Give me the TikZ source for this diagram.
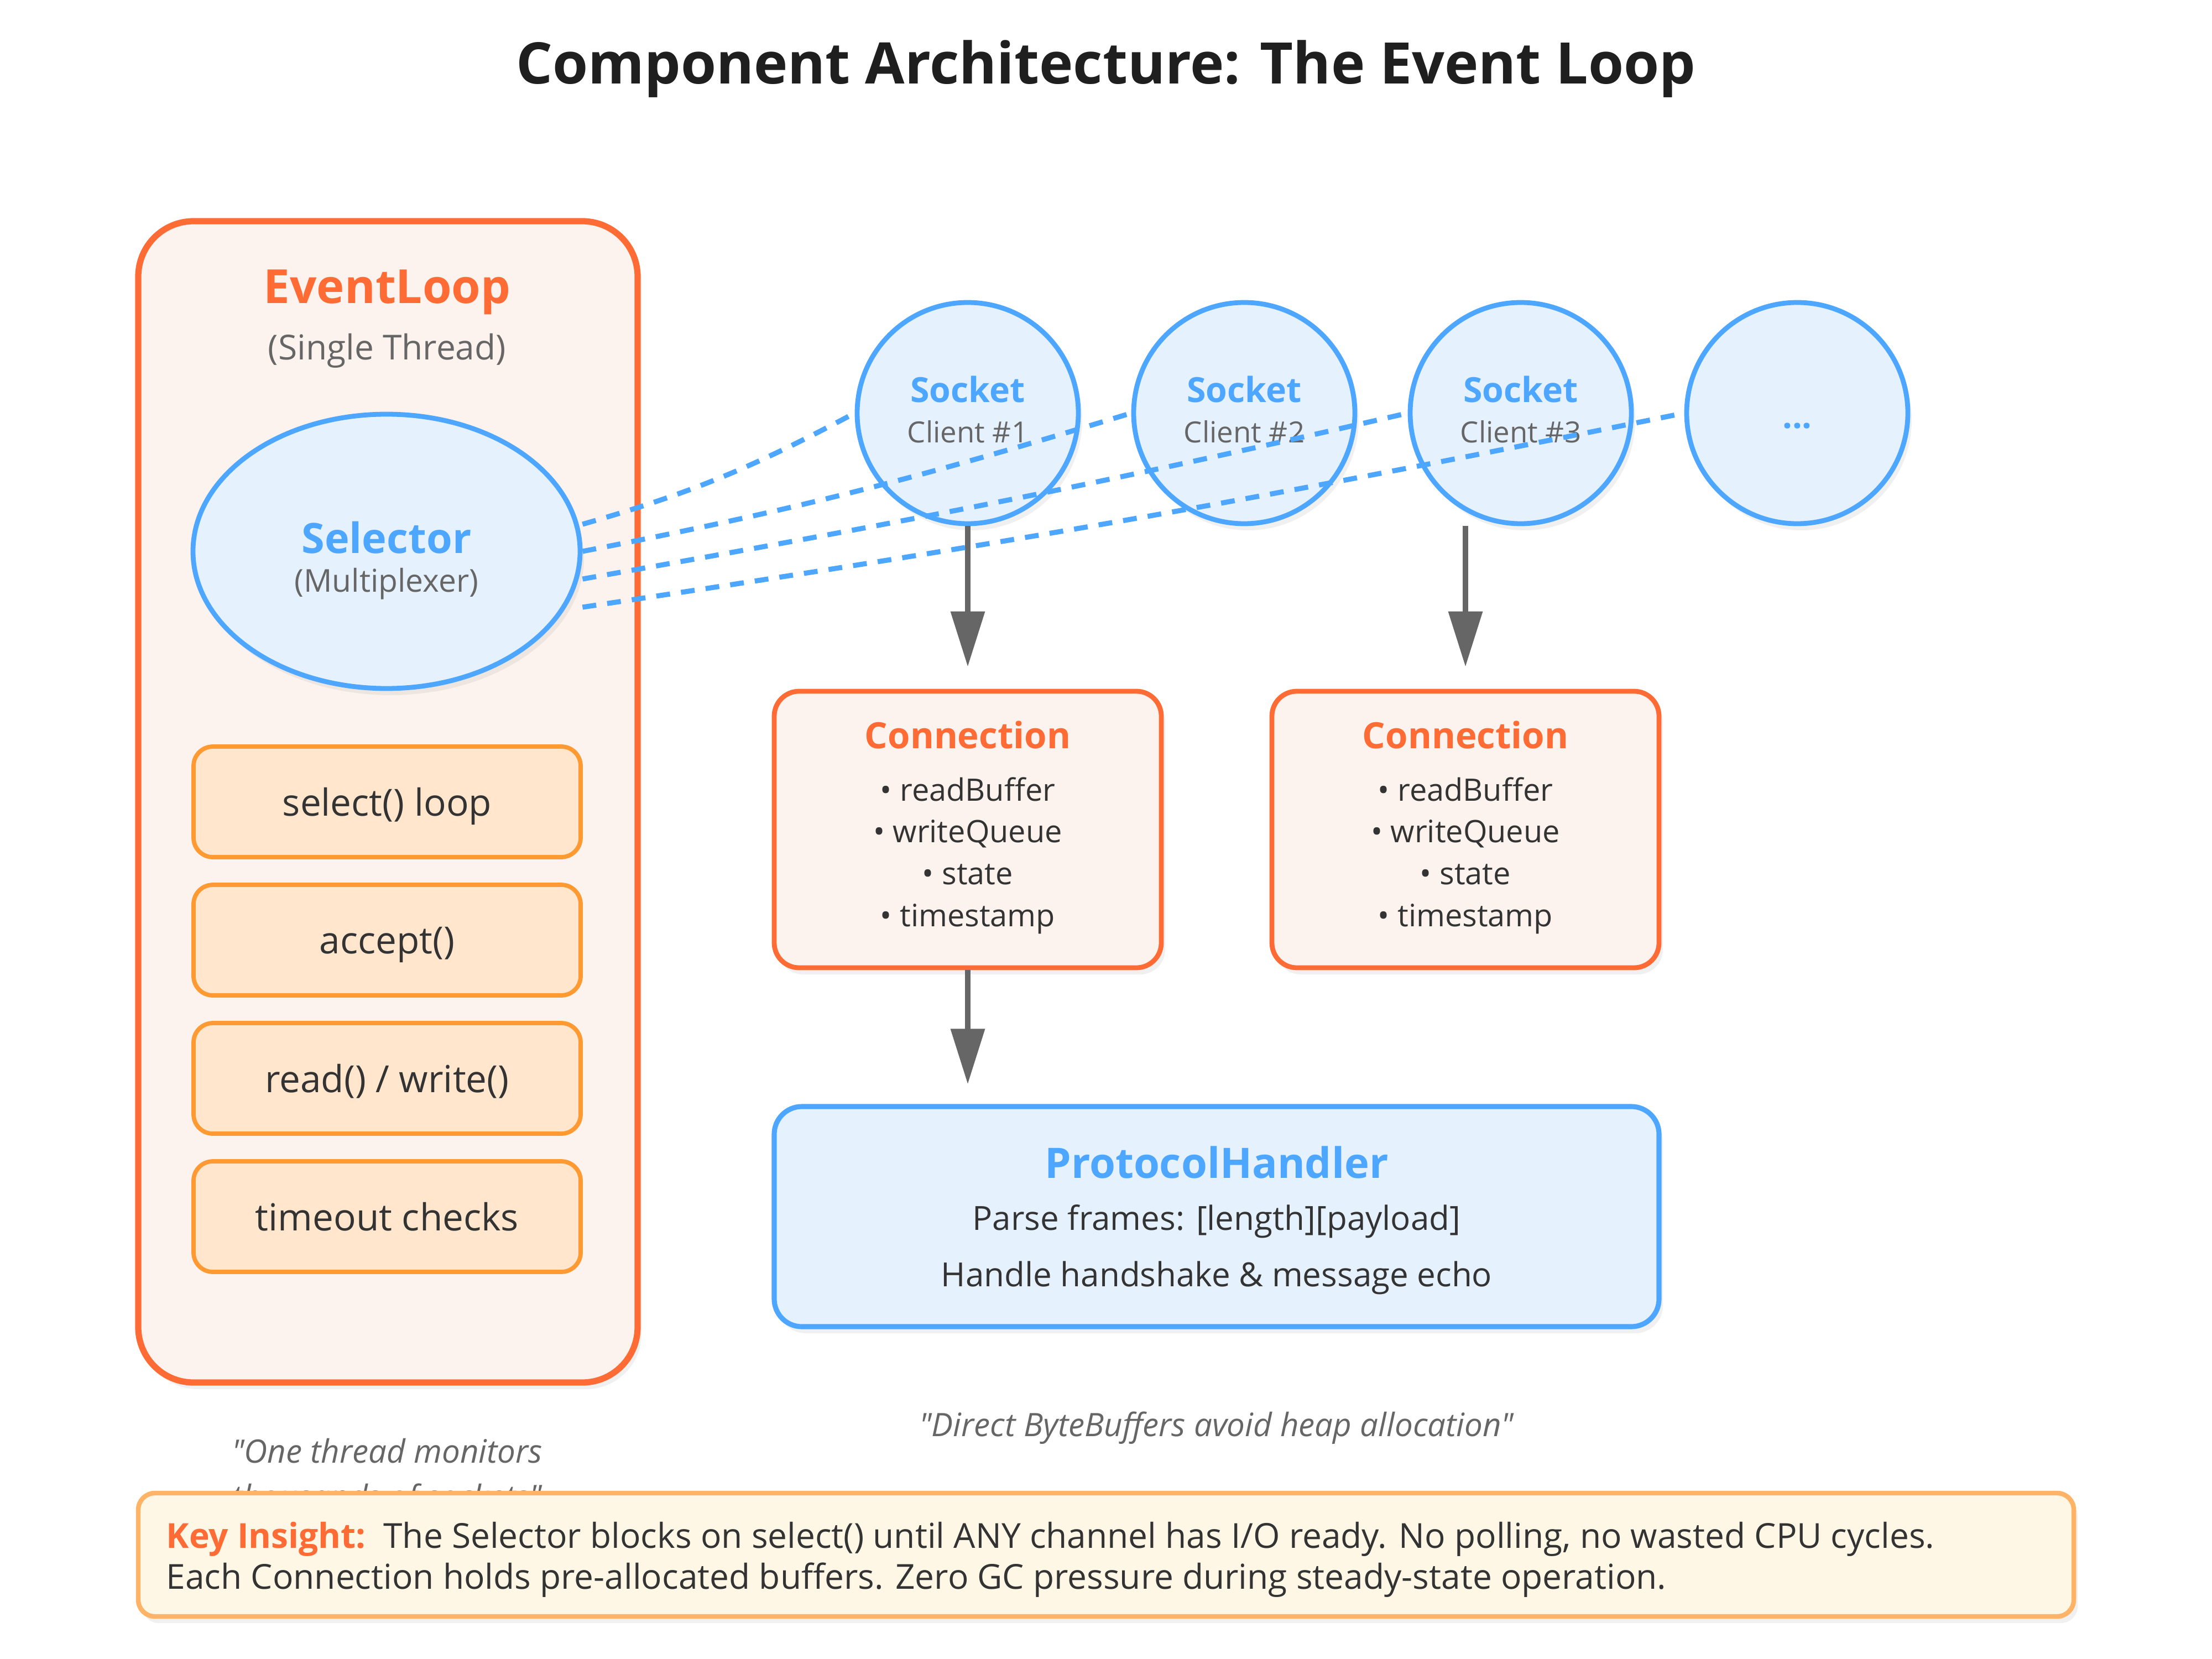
\documentclass[tikz,border=0pt]{standalone}
\usepackage{fontspec}
\setmainfont{Open Sans}[Ligatures=TeXOff]
\usetikzlibrary{arrows.meta,shadows,shapes.geometric}

\definecolor{hot}{HTML}{FF6B35}
\definecolor{hotfill}{HTML}{FDF3EE}
\definecolor{amber}{HTML}{FF9A33}
\definecolor{amberfill}{HTML}{FFE6CC}
\definecolor{sky}{HTML}{4DA6FF}
\definecolor{skyfill}{HTML}{E5F1FD}
\definecolor{ink}{HTML}{333333}
\definecolor{mute}{HTML}{666666}
\definecolor{note}{HTML}{FFB366}
\definecolor{notefill}{HTML}{FFF7E6}

\begin{document}
\begin{tikzpicture}[>={Triangle[length=1cm,width=0.6cm]}]
  \tikzset{
    soft/.style={drop shadow={opacity=0.12,shadow xshift=0.07cm,shadow yshift=-0.12cm}},
    txt/.style={text=ink,inner sep=0pt},
    heading/.style={txt,text=black!88,font=\bfseries\fontsize{29.5}{34}\selectfont},
    hothead/.style={txt,text=hot,font=\bfseries\fontsize{#1}{#1}\selectfont},
    skyhead/.style={txt,text=sky,font=\bfseries\fontsize{#1}{#1}\selectfont},
    sub/.style={txt,text=mute,font=\fontsize{#1}{#1}\selectfont},
    quote/.style={txt,text=mute,align=center,font=\itshape\fontsize{16.6}{23.4}\selectfont},
    loopbox/.style={draw=hot,line width=3.2pt,fill=hotfill,rounded corners=1cm,soft},
    sel/.style={ellipse,draw=sky,line width=2.5pt,fill=skyfill,
      minimum width=7cm,minimum height=4.96cm,soft},
    callbox/.style={txt,draw=amber,line width=2.2pt,fill=amberfill,rounded corners=0.35cm,
      minimum width=7cm,minimum height=2cm,text depth=0pt,font=\fontsize{19.2}{19.2}\selectfont},
    sock/.style={circle,draw=sky,line width=2.5pt,fill=skyfill,minimum size=4cm,soft},
    conn/.style={draw=hot,line width=2.5pt,fill=hotfill,rounded corners=0.45cm,
      minimum width=7cm,minimum height=5cm,soft},
    handler/.style={draw=sky,line width=2.6pt,fill=skyfill,rounded corners=0.5cm,
      minimum width=16cm,minimum height=3.98cm,soft},
    keybox/.style={draw=note,line width=2.4pt,fill=notefill,rounded corners=0.3cm,
      minimum width=35cm,minimum height=2.23cm,soft},
    list/.style={txt,align=center,font=\fontsize{15.9}{21.5}\selectfont},
    link/.style={sky,line width=2.6pt,dash pattern=on 0.25cm off 0.2cm},
    flow/.style={->,mute,line width=2.8pt}
  }
  \useasboundingbox (0,0) rectangle (40,-30);

  \node[heading] (title) at (20,-1.25) {Component Architecture: The Event Loop};

  % event loop column
  \node[loopbox,minimum width=9.03cm,minimum height=21cm] (evloop) at (7.015,-14.5) {};
  \node[hothead=24.2] (evname) at (7.0,-5.28) {EventLoop};
  \node[sub=17.7] (evsub) at (7.0,-6.34) {(Single Thread)};
  \node[sel] (sel) at (6.99,-9.97) {};
  \node[skyhead=21.5] (selname) at (6.99,-9.72) {Selector};
  \node[sub=16.2] (selsub) at (6.99,-10.56) {(Multiplexer)};
  \node[callbox] (selectloop) at (7.0,-14.5) {select() loop};
  \node[callbox] (accept) at (7.0,-17.0) {accept()};
  \node[callbox] (rw) at (7.0,-19.5) {read() / write()};
  \node[callbox] (timeout) at (7.0,-22.0) {timeout checks};

  % sockets
  \foreach \i/\x in {1/17.5,2/22.5,3/27.5} {
    \node[sock] (s\i) at (\x,-7.47) {};
    \node[skyhead=17.8] (sname\i) at (\x,-7.04) {Socket};
    \node[sub=15] (ssub\i) at (\x,-7.81) {Client \#\i};
  }
  \node[sock] (s4) at (32.5,-7.47) {};
  \node[skyhead=17.8] (smore) at (32.5,-7.7) {...};

  % connections
  \foreach \i/\x in {1/17.5,2/26.5} {
    \node[conn] (c\i) at (\x,-15.0) {};
    \node[hothead=18.6] (cname\i) at (\x,-13.29) {Connection};
    \node[list] (clist\i) at (\x,-15.47)
      {• readBuffer\\• writeQueue\\• state\\• timestamp};
  }

  \node[handler] (ph) at (22.0,-22.0) {};
  \node[skyhead=21.6] (phname) at (22.0,-21.02) {ProtocolHandler};
  \node[list,font=\fontsize{17.1}{29}\selectfont] (phtext) at (22.0,-22.6)
    {Parse frames: [length][payload]\\Handle handshake \& message echo};

  \node[quote] (q1) at (7.0,-26.71) {"One thread monitors\\thousands of sockets"};
  \node[quote] (q2) at (22.0,-25.82) {"Direct ByteBuffers avoid heap allocation"};

  \node[keybox] (key) at (20.0,-28.115) {};
  \node[txt,anchor=west,align=left,font=\fontsize{17.7}{21}\selectfont] (keytext) at (3.0,-28.2)
    {{\color{hot}\bfseries Key Insight:}\ \ The Selector blocks on select() until ANY channel has I/O ready. No polling, no wasted CPU cycles.\\
     Each Connection holds pre-allocated buffers. Zero GC pressure during steady-state operation.};

  % arrows
  \draw[flow,shorten >=0.4cm] (s1.south) -- (c1.north);
  \draw[flow,shorten >=0.4cm] (c2.north |- s3.south) -- (c2.north);
  \draw[flow,shorten >=0.36cm] (c1.south) -- (c1.south |- ph.north);

  % selector links
  \coordinate (l1) at ([yshift=0.49cm]sel.east);
  \coordinate (l2) at (sel.east);
  \coordinate (l3) at ([yshift=-0.5cm]sel.east);
  \coordinate (l4) at ([yshift=-1.01cm]sel.east);
  \draw[link] (l1) to[out=16,in=208] (s1.west);
  \draw[link] (l2) to[out=11,in=197] (s2.west);
  \draw[link] (l3) to[out=10,in=193] (s3.west);
  \draw[link] (l4) to[out=8.5,in=191.5] (s4.west);
\end{tikzpicture}
\end{document}
